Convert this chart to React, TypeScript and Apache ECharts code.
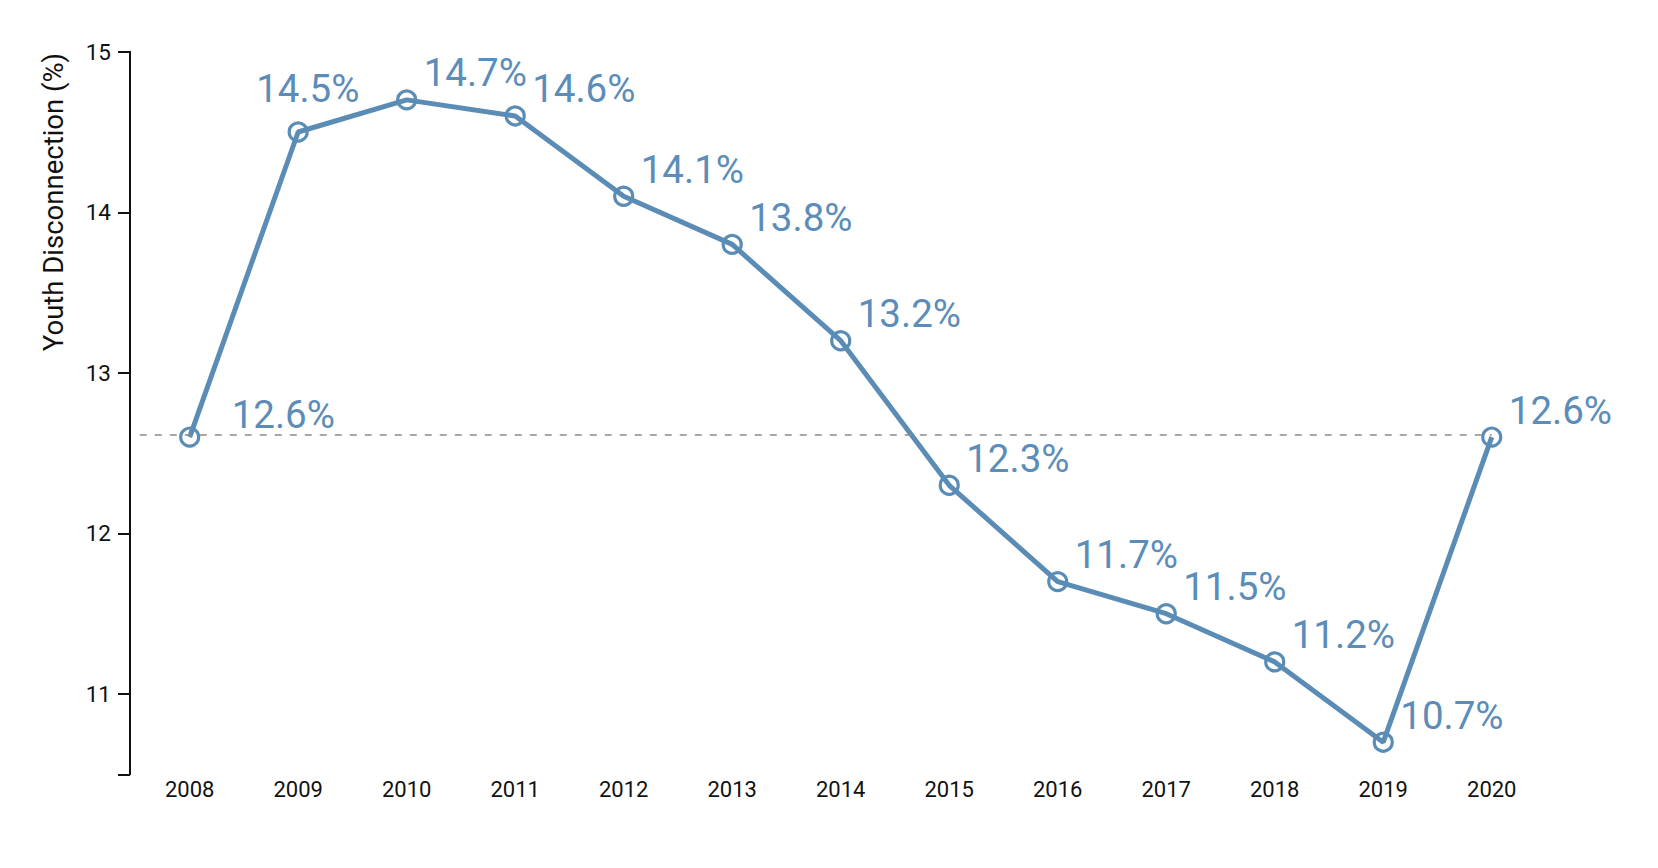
import React, { useEffect, useRef } from "react";
import * as echarts from "echarts";

// ---- data ----
const years = [2008, 2009, 2010, 2011, 2012, 2013, 2014, 2015, 2016, 2017, 2018, 2019, 2020];
const disconnectionRates = [12.6, 14.5, 14.7, 14.6, 14.1, 13.8, 13.2, 12.3, 11.7, 11.5, 11.2, 10.7, 12.6];
const yTickValues = [10.5, 11, 12, 13, 14, 15];
const yLabelValues = [11, 12, 13, 14, 15];
const referenceLevel = 12.615;
const yAxisTitle = "Youth Disconnection (%)";

const LINE_COLOR = "#5a8cb5";
const LABEL_COLOR = "#5b8db8";
const FONT = "Roboto, 'DejaVu Sans', sans-serif";

export default function App() {
  const ref = useRef<HTMLDivElement>(null);

  useEffect(() => {
    document.body.style.margin = "0";
    if (!ref.current) return;
    const chart = echarts.init(ref.current, undefined, { renderer: "svg" });

    const defaultOffset = [17, -27];
    const specialOffsets: Record<number, number[]> = {
      2008: [42, -22.5],
      2009: [-42, -43],
    };

    const seriesData = years.map((yr, i) => ({
      value: [yr, disconnectionRates[i]],
      label: {
        offset: specialOffsets[yr] || defaultOffset,
      },
    }));

    chart.setOption({
      animation: false,
      grid: {
        left: 130,
        right: 112,
        top: 51.7,
        bottom: 93.7,
        containLabel: false,
        outerBoundsMode: "none",
      },
      xAxis: {
        type: "value",
        min: 2007.45,
        max: 2020.5,
        axisLine: { show: false },
        axisTick: { show: false },
        splitLine: { show: false },
        axisLabel: {
          customValues: years,
          formatter: (v: number) => String(Math.round(v)),
          fontSize: 22,
          fontFamily: FONT,
          color: "#111",
          margin: 4,
        },
      },
      yAxis: {
        type: "value",
        min: 10.5,
        max: 15,
        splitLine: { show: false },
        axisLine: { show: true, lineStyle: { color: "#111", width: 2 } },
        axisTick: {
          show: true,
          length: 12,
          customValues: yTickValues,
          lineStyle: { color: "#111", width: 2 },
        },
        axisLabel: {
          customValues: yLabelValues,
          fontSize: 22.5,
          fontFamily: FONT,
          color: "#111",
          margin: 19,
        },
      },
      graphic: [
        {
          type: "text",
          x: 53,
          y: 202,
          rotation: Math.PI / 2,
          style: {
            text: yAxisTitle,
            fontSize: 27.5,
            fontFamily: FONT,
            fill: "#111",
            align: "center",
            verticalAlign: "middle",
          },
        },
      ],
      series: [
        {
          type: "line",
          data: seriesData,
          symbol: "circle",
          symbolSize: 18,
          itemStyle: {
            color: "rgba(0,0,0,0)",
            borderColor: LINE_COLOR,
            borderWidth: 3.2,
          },
          lineStyle: { color: LINE_COLOR, width: 5 },
          label: {
            show: true,
            position: ["50%", "50%"],
            align: "left",
            verticalAlign: "middle",
            formatter: (p: any) => p.value[1].toFixed(1) + "%",
            fontSize: 38.5,
            fontFamily: FONT,
            color: LABEL_COLOR,
          },
          emphasis: { disabled: true },
          markLine: {
            silent: true,
            symbol: "none",
            label: { show: false },
            lineStyle: { color: "#8c8c8c", width: 1.5, type: [7, 8] },
            emphasis: { disabled: true },
            data: [
              [
                { coord: [2007.54, referenceLevel] },
                { coord: [2020, referenceLevel] },
              ],
            ],
          },
          z: 3,
        },
      ],
    });

    return () => chart.dispose();
  }, []);

  return <div ref={ref} style={{ width: 1658, height: 868 }} />;
}
